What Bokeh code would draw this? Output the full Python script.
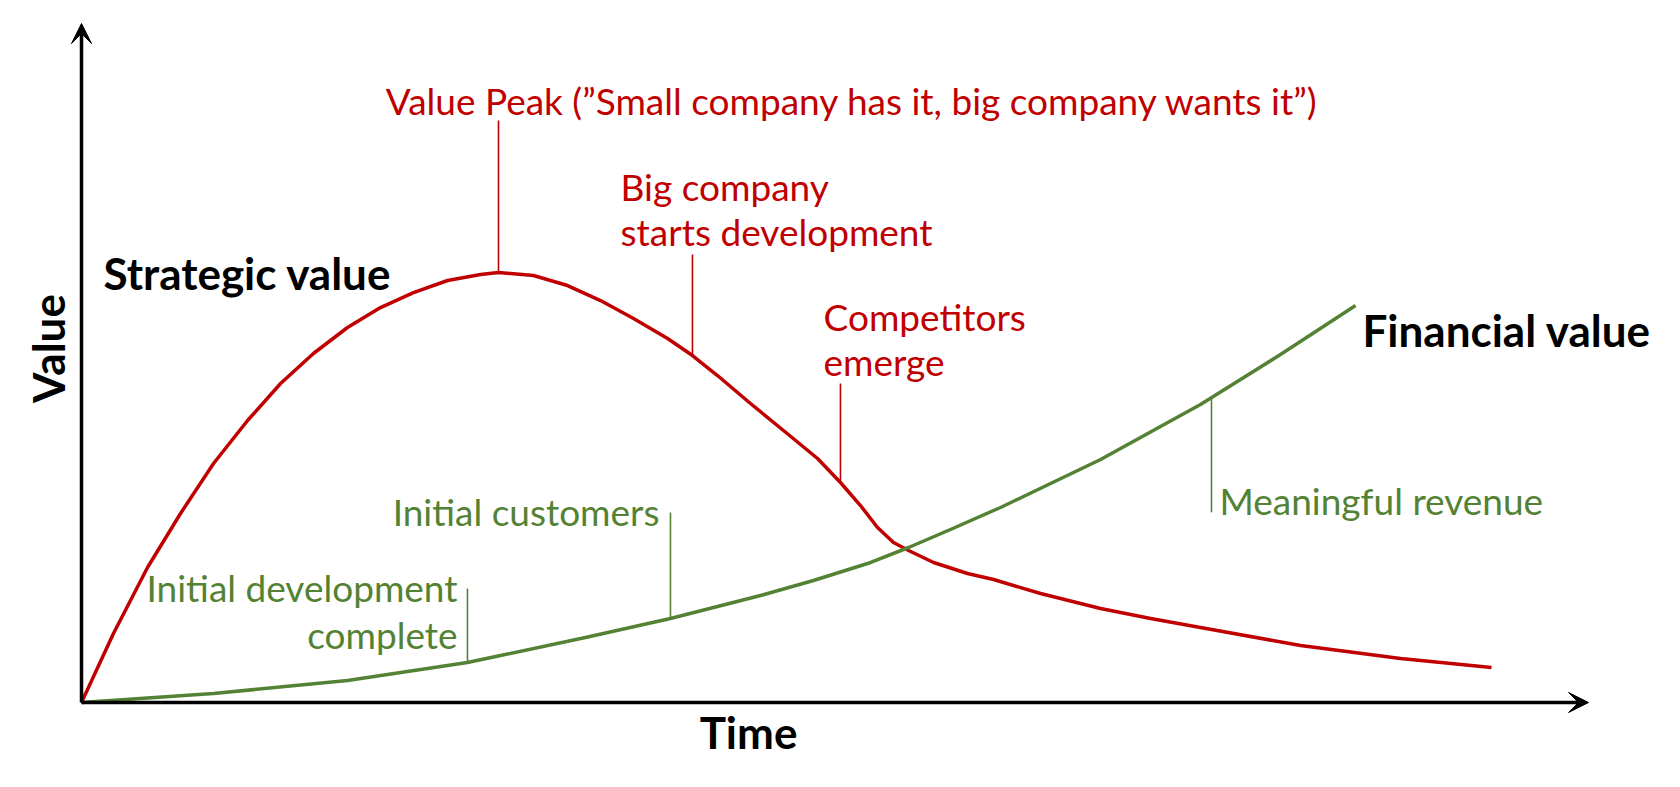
import math
from bokeh.plotting import figure
from bokeh.models import Range1d, Arrow, VeeHead, ColumnDataSource
from bokeh.core.properties import value
from bokeh.embed import file_html
from bokeh.resources import INLINE

# ---------------- data (time 0..100, value 0..100) ----------------
strategic_time = [0, 2.12, 4.38, 6.57, 8.76, 11.02, 13.21, 15.39, 17.65, 19.84, 22.03,
                  24.29, 26.48, 27.67, 29.99, 32.25, 34.44, 36.63, 38.89, 40.54, 42.20,
                  44.39, 46.58, 48.84, 50.36, 51.69, 52.82, 53.88, 54.88, 56.54, 58.79,
                  60.52, 63.64, 67.62, 70.94, 74.25, 80.89, 87.52, 93.56]
strategic_value = [0, 10.16, 19.88, 27.84, 35.20, 41.53, 46.98, 51.40, 55.23, 58.17, 60.38,
                   62.15, 63.03, 63.33, 62.89, 61.41, 59.20, 56.55, 53.61, 51.10, 48.16,
                   44.04, 40.06, 35.94, 32.40, 29.01, 25.77, 23.56, 22.39, 20.62, 19.00,
                   18.11, 16.05, 13.84, 12.37, 11.05, 8.39, 6.48, 5.15]

financial_time = [0, 8.76, 17.65, 25.61, 27.80, 33.44, 39.08, 45.06, 48.57, 52.16, 54.88,
                  57.66, 60.98, 67.62, 74.25, 79.56, 84.54]
financial_value = [0, 1.33, 3.24, 5.89, 6.92, 9.57, 12.37, 15.76, 17.97, 20.47, 22.83,
                   25.48, 28.72, 35.79, 43.89, 51.25, 58.47]

# milestone leader lines: (time, value at curve, value at label end)
red_marks_time = [27.67, 40.54, 50.36]
red_marks_low = [63.33, 51.10, 32.40]
red_marks_high = [85.71, 65.98, 46.98]

green_marks_time = [25.61, 39.08, 74.98]
green_marks_low = [5.89, 12.37, 28.0]
green_marks_high = [16.79, 27.98, 44.77]

RED = "#C00000"
GREEN = "#548235"
FONT = "Lato"

p = figure(width=1664, height=771, output_backend="svg", toolbar_location=None,
           x_range=Range1d(-5.375, 105.04), y_range=Range1d(-10.16, 103.39),
           x_axis_type=None, y_axis_type=None, min_border=0,
           outline_line_color=None, background_fill_color="white",
           border_fill_color="white")
p.grid.visible = False

# curves
p.line(strategic_time, strategic_value, line_color=RED, line_width=3.5, line_join="round")
p.line(financial_time, financial_value, line_color=GREEN, line_width=3.5, line_join="round")

# leader lines
p.segment(x0=red_marks_time, y0=red_marks_low, x1=red_marks_time, y1=red_marks_high,
          line_color=RED, line_width=1.6)
p.segment(x0=green_marks_time, y0=green_marks_low, x1=green_marks_time, y1=green_marks_high,
          line_color=GREEN, line_width=1.6)

# axes as arrows
p.add_layout(Arrow(end=VeeHead(size=20, fill_color="black", line_color="black"),
                   x_start=0, y_start=0, x_end=100, y_end=0,
                   line_color="black", line_width=3.5))
p.add_layout(Arrow(end=VeeHead(size=20, fill_color="black", line_color="black"),
                   x_start=0, y_start=0, x_end=0, y_end=100,
                   line_color="black", line_width=3.5))

# --- labels ---
def txt(x, y, t, color, size, align, bold=False, angle=0):
    src = ColumnDataSource(dict(x=x, y=y, t=t))
    p.text("x", "y", text="t", source=src, text_color=color,
           text_font=value(FONT), text_font_size=size, text_align=align,
           text_baseline="alphabetic", angle=angle,
           text_font_style="bold" if bold else "normal")

# red annotations
txt([51.16], [88.7], ["Value Peak (\u201dSmall company has it, big company wants it\u201d)"], RED, "37px", "center")
txt([35.77, 35.77], [76.0, 69.4], ["Big company", "starts development"], RED, "37px", "left")
txt([49.24, 49.24], [56.9, 50.2], ["Competitors", "emerge"], RED, "37px", "left")

# green annotations
txt([38.35], [28.1], ["Initial customers"], GREEN, "37px", "right")
txt([24.95, 24.95], [16.9, 10.0], ["Initial development", "complete"], GREEN, "37px", "right")
txt([75.51], [29.7], ["Meaningful revenue"], GREEN, "37px", "left")

# series names
txt([1.46], [63.2], ["Strategic value"], "black", "44px", "left", bold=True)
txt([85.0], [54.8], ["Financial value"], "black", "44px", "left", bold=True)

# axis titles
txt([44.26], [-4.4], ["Time"], "black", "44px", "center", bold=True)
txt([-2.2], [52.14], ["Value"], "black", "44px", "center", bold=True, angle=math.pi / 2)

open("out.html", "w").write(file_html(p, INLINE))
